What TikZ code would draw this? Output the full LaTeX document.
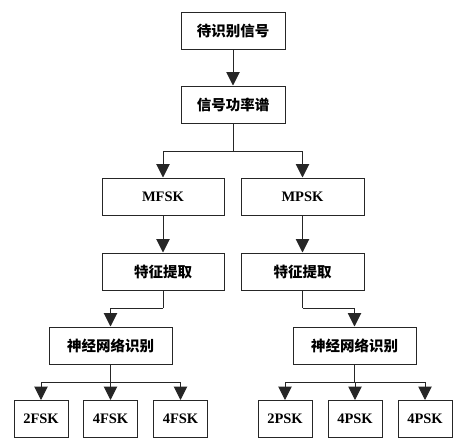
\documentclass[tikz,border=0pt]{standalone}
\usepackage{fontspec}
\setmainfont{Liberation Serif}
\newfontfamily\cjk{Noto Sans CJK SC}
\usetikzlibrary{arrows.meta}

\begin{document}
\begin{tikzpicture}[x=1pt,y=1pt]
      \tikzstyle{every node}+=[inner sep=0pt, font=\fontsize{14.5}{16}\selectfont\bfseries]
      \tikzstyle{box}=[draw=black!85, line width=1pt, rectangle, minimum height=37pt]
      \tikzstyle{arr}=[draw=black!85, line width=1pt, -{Triangle[width=13.5pt,length=13.5pt]}]
      \tikzstyle{ln}=[draw=black!85, line width=1pt]
      \useasboundingbox (0,0) rectangle (464,-447);
      % top
      \node [box, minimum width=104pt] (sig) at (233,-30.5) {\cjk 待识别信号};
      \node [box, minimum width=104pt] (psd) at (233,-104.5) {\cjk 信号功率谱};
      \draw [arr] (sig) -- (psd);
      \coordinate (j1) at (233,-151);
      \draw [ln] (psd) -- (j1);
      % two branches
      \node [box, minimum width=122pt] (mfsk) at (163,-196.5) {MFSK};
      \node [box, minimum width=123pt] (mpsk) at (302.5,-196.5) {MPSK};
      \draw [arr] (j1) -| (mfsk);
      \draw [arr] (j1) -| (mpsk);
      \node [box, minimum width=122pt] (fe1) at (163,-271.5) {\cjk 特征提取};
      \node [box, minimum width=123pt] (fe2) at (302.5,-271.5) {\cjk 特征提取};
      \draw [arr] (mfsk) -- (fe1);
      \draw [arr] (mpsk) -- (fe2);
      \coordinate (j2) at (163,-308);
      \coordinate (j3) at (302.5,-308);
      \node [box, minimum width=123pt] (nn1) at (110.5,-345.5) {\cjk 神经网络识别};
      \node [box, minimum width=123pt] (nn2) at (354.5,-345.5) {\cjk 神经网络识别};
      \draw [ln] (fe1) -- (j2);
      \draw [arr] (j2) -| (nn1);
      \draw [ln] (fe2) -- (j3);
      \draw [arr] (j3) -| (nn2);
      % results
      \coordinate (j4) at (110.5,-382);
      \coordinate (j5) at (354.5,-382);
      \draw [ln] (nn1) -- (j4);
      \draw [ln] (nn2) -- (j5);
      \node [box, minimum width=54pt] (f2) at (41,-419) {2FSK};
      \node [box, minimum width=54pt] (f4) at (110.5,-419) {4FSK};
      \node [box, minimum width=54pt] (f8) at (180.5,-419) {4FSK};
      \node [box, minimum width=54pt] (p2) at (285,-419) {2PSK};
      \node [box, minimum width=54pt] (p4) at (355,-419) {4PSK};
      \node [box, minimum width=54pt] (p8) at (425,-419) {4PSK};
      \foreach \n in {f2,f4,f8} \draw [arr] (j4) -| (\n);
      \foreach \n in {p2,p4,p8} \draw [arr] (j5) -| (\n);
\end{tikzpicture}
\end{document}
